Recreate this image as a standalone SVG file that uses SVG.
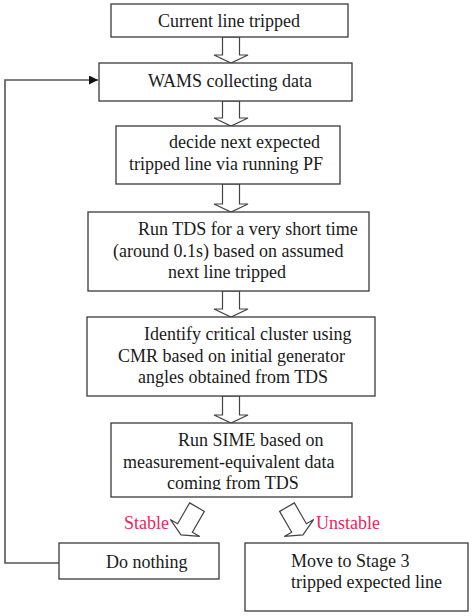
<svg xmlns="http://www.w3.org/2000/svg" width="474" height="616" viewBox="0 0 474 616">
<style>
.box{fill:#fff;stroke:#3a3a3a;stroke-width:1.3}
.t{font-family:"Liberation Serif","Times New Roman",serif;font-size:18px;fill:#1a1a1a}
.lbl{font-family:"Liberation Serif","Times New Roman",serif;font-size:18px;fill:#e8275c}
.ha{fill:#fff;stroke:#444;stroke-width:1.2;stroke-linejoin:miter}
.fb{fill:none;stroke:#555;stroke-width:1.6}
</style>
<defs>
<path id="darrow" d="M-8.5,-16 L8.5,-16 L8.5,8 L17,8 L0,16 L-17,8 L-8.5,8 Z"/>
<marker id="ah" markerWidth="10" markerHeight="10" refX="9" refY="4.5" orient="auto" markerUnits="userSpaceOnUse">
<path d="M0,0 L9,4.5 L0,9 Z" fill="#111"/>
</marker>
<clipPath id="clip6"><rect x="100" y="420" width="260" height="70"/></clipPath>
</defs>

<g id="connectors">
<path class="ha" d="M222.5,37 L239.5,37 L239.5,55 L248,55 L231,63 L214,55 L222.5,55 Z"/>
<path class="ha" d="M222.5,101 L239.5,101 L239.5,118 L248,118 L231,126 L214,118 L222.5,118 Z"/>
<path class="ha" d="M222.5,184 L239.5,184 L239.5,204 L248,204 L231,212 L214,204 L222.5,204 Z"/>
<path class="ha" d="M222.5,291 L239.5,291 L239.5,309 L248,309 L231,317 L214,309 L222.5,309 Z"/>
<path class="ha" d="M222.5,396 L239.5,396 L239.5,415 L248,415 L231,423 L214,415 L222.5,415 Z"/>
<use href="#darrow" class="ha" transform="translate(189,521) rotate(30)"/>
<use href="#darrow" class="ha" transform="translate(295,521) rotate(-30)"/>
<polyline class="fb" points="59,563 5,563 5,80 98,80" marker-end="url(#ah)"/>
</g>

<g id="n1">
<rect class="box" x="111" y="4" width="237" height="33"/>
<text class="t" x="158" y="27">Current line tripped</text>
</g>
<g id="n2">
<rect class="box" x="99" y="63" width="253" height="38"/>
<text class="t" x="148" y="87">WAMS collecting data</text>
</g>
<g id="n3">
<rect class="box" x="116" y="126" width="224" height="58"/>
<text class="t" x="169" y="148">decide next expected</text>
<text class="t" x="129" y="170">tripped line via running PF</text>
</g>
<g id="n4">
<rect class="box" x="88" y="212" width="281" height="79"/>
<text class="t" x="138" y="235">Run TDS for a very short time</text>
<text class="t" x="113" y="257">(around 0.1s) based on assumed</text>
<text class="t" x="168" y="278">next line tripped</text>
</g>
<g id="n5">
<rect class="box" x="87" y="317" width="288" height="79"/>
<text class="t" x="144" y="340">Identify critical cluster using</text>
<text class="t" x="118" y="362">CMR based on initial generator</text>
<text class="t" x="138" y="383">angles obtained from TDS</text>
</g>
<g id="n6">
<rect class="box" x="111" y="423" width="241" height="74"/>
<text class="t" x="178" y="446">Run SIME based on</text>
<text class="t" x="123" y="468">measurement-equivalent data</text>
<text class="t" x="167" y="489" clip-path="url(#clip6)">coming from TDS</text>
</g>
<g id="labels">
<text class="lbl" x="124" y="529">Stable</text>
<text class="lbl" x="316" y="529">Unstable</text>
</g>
<g id="n7">
<rect class="box" x="59" y="543" width="160" height="36"/>
<text class="t" x="106" y="568">Do nothing</text>
</g>
<g id="n8">
<rect class="box" x="245" y="543" width="223" height="68"/>
<text class="t" x="291" y="567">Move to Stage 3</text>
<text class="t" x="291" y="588">tripped expected line</text>
</g>
</svg>
